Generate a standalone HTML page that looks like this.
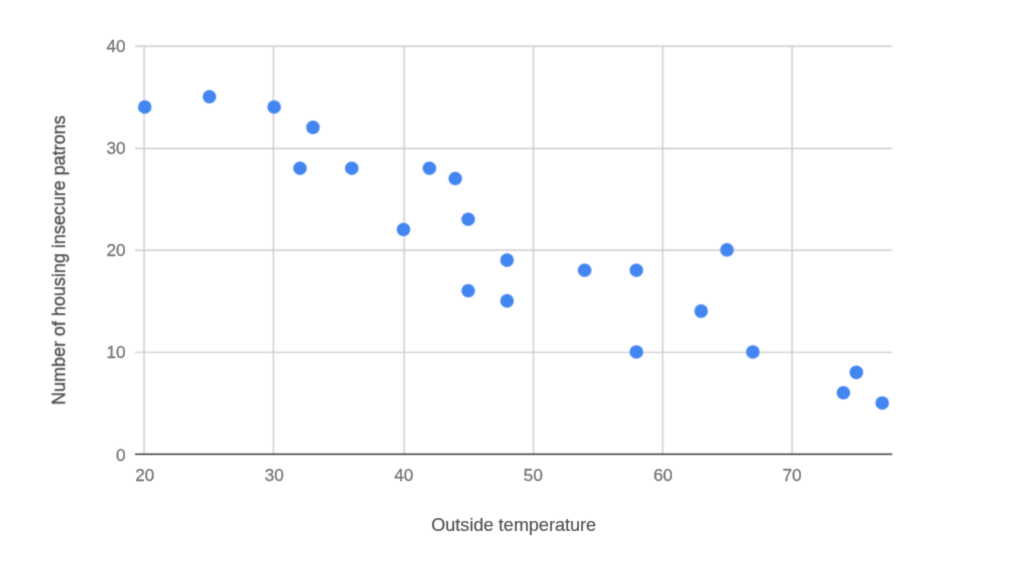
<!DOCTYPE html>
<html lang="en">
<head>
<meta charset="utf-8">
<title>Outside temperature vs. number of housing insecure patrons</title>
<style>
  html, body { margin: 0; padding: 0; background: #ffffff; }
  body { width: 1024px; height: 569px; overflow: hidden; }
  svg { display: block; }
  .chart { filter: url(#soft); }
  .labels { filter: url(#softt); }
  .tick { font-family: "Liberation Sans", sans-serif; font-size: 17.2px; fill: #777777; stroke: #777777; stroke-width: 0.3px; }
  .title { font-family: "Liberation Sans", sans-serif; font-size: 18.6px; fill: #505050; stroke: #505050; stroke-width: 0.15px; }
  .title.v { fill: #4a4a4a; stroke: #4a4a4a; stroke-width: 0.3px; }
  .grid line { stroke: #cccccc; stroke-width: 1.4; }
  .base { stroke: #3c3c3c; stroke-width: 1.5; }
  .pts circle { fill: #4386f2; }
</style>
</head>
<body>
<svg width="1024" height="569" viewBox="0 0 1024 569" role="img" aria-label="Scatter chart of outside temperature against number of housing insecure patrons">
  <defs>
    <filter id="soft" x="0" y="0" width="1024" height="569" filterUnits="userSpaceOnUse" color-interpolation-filters="sRGB">
      <feConvolveMatrix order="3" kernelMatrix="0.0400 0.1200 0.0400 0.1200 0.3600 0.1200 0.0400 0.1200 0.0400" divisor="1" edgeMode="none" preserveAlpha="false"/>
    </filter>
    <filter id="softt" x="0" y="0" width="1024" height="569" filterUnits="userSpaceOnUse" color-interpolation-filters="sRGB">
      <feConvolveMatrix order="3" kernelMatrix="0.0169 0.0962 0.0169 0.0962 0.5476 0.0962 0.0169 0.0962 0.0169" divisor="1" edgeMode="none" preserveAlpha="false"/>
    </filter>
  </defs>
  <rect x="0" y="0" width="1024" height="569" fill="#ffffff"/>
  <g class="chart">
  <g class="grid">
    <line x1="135.0" y1="46.3" x2="892.3" y2="46.3"/>
    <line x1="135.0" y1="148.44" x2="892.3" y2="148.44"/>
    <line x1="135.0" y1="250.3" x2="892.3" y2="250.3"/>
    <line x1="135.0" y1="352.37" x2="892.3" y2="352.37"/>
    <line x1="144.12" y1="46.3" x2="144.12" y2="454.15"/>
    <line x1="273.42" y1="46.3" x2="273.42" y2="454.15"/>
    <line x1="404.19" y1="46.3" x2="404.19" y2="454.15"/>
    <line x1="533.42" y1="46.3" x2="533.42" y2="454.15"/>
    <line x1="662.67" y1="46.3" x2="662.67" y2="454.15"/>
    <line x1="792.09" y1="46.3" x2="792.09" y2="454.15"/>
  </g>
  <line class="base" x1="135.0" y1="454.29999999999995" x2="892.3" y2="454.29999999999995"/>
  <g class="pts">
    <circle cx="144.76" cy="107.01" r="6.8"/>
    <circle cx="209.45" cy="96.81" r="6.8"/>
    <circle cx="274.14" cy="107.01" r="6.8"/>
    <circle cx="312.95" cy="127.42" r="6.8"/>
    <circle cx="300.02" cy="168.24" r="6.8"/>
    <circle cx="351.77" cy="168.24" r="6.8"/>
    <circle cx="403.52" cy="229.47" r="6.8"/>
    <circle cx="429.40" cy="168.24" r="6.8"/>
    <circle cx="455.27" cy="178.44" r="6.8"/>
    <circle cx="468.21" cy="219.27" r="6.8"/>
    <circle cx="507.02" cy="260.09" r="6.8"/>
    <circle cx="468.21" cy="290.70" r="6.8"/>
    <circle cx="507.02" cy="300.91" r="6.8"/>
    <circle cx="584.65" cy="270.29" r="6.8"/>
    <circle cx="636.40" cy="270.29" r="6.8"/>
    <circle cx="726.97" cy="249.88" r="6.8"/>
    <circle cx="701.09" cy="311.11" r="6.8"/>
    <circle cx="636.40" cy="351.93" r="6.8"/>
    <circle cx="752.85" cy="351.93" r="6.8"/>
    <circle cx="856.35" cy="372.34" r="6.8"/>
    <circle cx="843.41" cy="392.75" r="6.8"/>
    <circle cx="882.23" cy="402.96" r="6.8"/>
  </g>
  </g>
  <g class="labels">
  <g class="tick" text-anchor="end">
    <text x="125.55" y="51.90">40</text>
    <text x="125.55" y="154.05">30</text>
    <text x="125.55" y="256.40">20</text>
    <text x="125.55" y="358.40">10</text>
    <text x="125.55" y="460.60">0</text>
  </g>
  <g class="tick" text-anchor="middle">
    <text x="144.89" y="480.65">20</text>
    <text x="274.39" y="480.65">30</text>
    <text x="403.71" y="480.65">40</text>
    <text x="533.18" y="480.65">50</text>
    <text x="662.99" y="480.65">60</text>
    <text x="791.98" y="480.65">70</text>
  </g>
  <text class="title" text-anchor="middle" x="513.7" y="530.6" textLength="165" lengthAdjust="spacingAndGlyphs">Outside temperature</text>
  <text class="title v" text-anchor="middle" transform="translate(64.9 260.2) rotate(-90)" textLength="289.5" lengthAdjust="spacingAndGlyphs">Number of housing insecure patrons</text>
  </g>
</svg>
</body>
</html>
